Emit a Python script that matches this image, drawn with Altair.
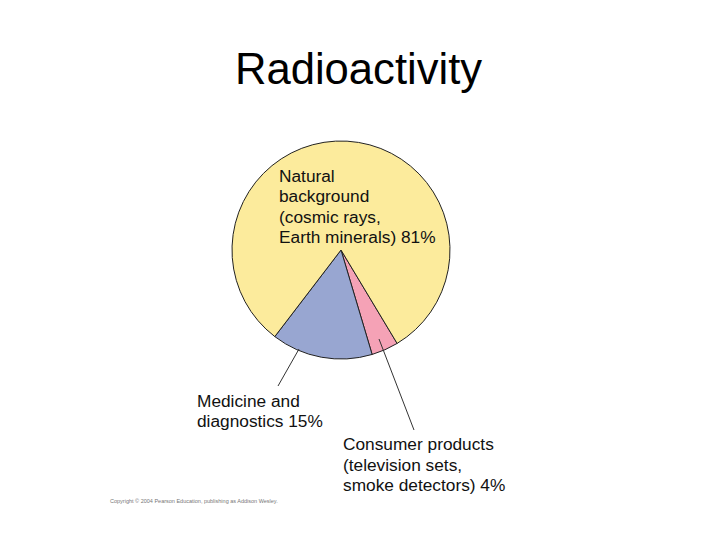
import altair as alt
import pandas as pd
import math

categories = ["Consumer products", "Medicine and diagnostics", "Natural background"]
percentages = [4, 15, 81]
slice_order = [0, 1, 2]
colors = ["#F5A2B6", "#98A6D1", "#FCEB9C"]

label_natural = "Natural\nbackground\n(cosmic rays,\nEarth minerals) 81%"
label_medicine = "Medicine and\ndiagnostics 15%"
label_consumer = "Consumer products\n(television sets,\nsmoke detectors) 4%"
title_text = "Radioactivity"
copyright_text = "Copyright © 2004 Pearson Education, publishing as Addison Wesley."

df = pd.DataFrame({"category": categories, "pct": percentages, "ord": slice_order})
one = pd.DataFrame({"a": [0]})

start = math.radians(149)
FONT = "Liberation Sans"

pie = alt.Chart(df).mark_arc(outerRadius=109, stroke="#222222", strokeWidth=1).encode(
    theta=alt.Theta("pct:Q", stack=True, scale=alt.Scale(range=[start, start + 2 * math.pi])),
    color=alt.Color("category:N", scale=alt.Scale(domain=categories, range=colors), legend=None),
    order=alt.Order("ord:Q"),
    x=alt.value(333),
    y=alt.value(242),
)

line1 = alt.Chart(one).mark_rule(color="#333333", strokeWidth=1).encode(
    x=alt.value(291), y=alt.value(341), x2=alt.value(270), y2=alt.value(378)
)
line2 = alt.Chart(one).mark_rule(color="#333333", strokeWidth=1).encode(
    x=alt.value(371), y=alt.value(331), x2=alt.value(406), y2=alt.value(422)
)

def txt(text, x, y, size, lh=20.5, align="left", color="#111111"):
    return alt.Chart(one).mark_text(
        text=text, align=align, baseline="alphabetic", font=FONT, fontSize=size,
        lineBreak="\n", lineHeight=lh, color=color,
    ).encode(x=alt.value(x), y=alt.value(y))

title = txt(title_text, 350.5, 75.5, 43.6, align="center", color="#000000")
t_nat = txt(label_natural, 271, 173.5, 17.3, 20.5)
t_med = txt(label_medicine, 189, 399, 17.3, 20)
t_con = txt(label_consumer, 335, 442, 17.3, 20.5)
t_copy = txt(copyright_text, 102, 495, 5.5, color="#777777")

chart = alt.layer(pie, line1, line2, title, t_nat, t_med, t_con, t_copy).properties(
    width=704, height=524, padding=0, background="white"
).configure_view(stroke=None)

chart.save("out.html", embed_options={"renderer": "svg", "actions": False})
